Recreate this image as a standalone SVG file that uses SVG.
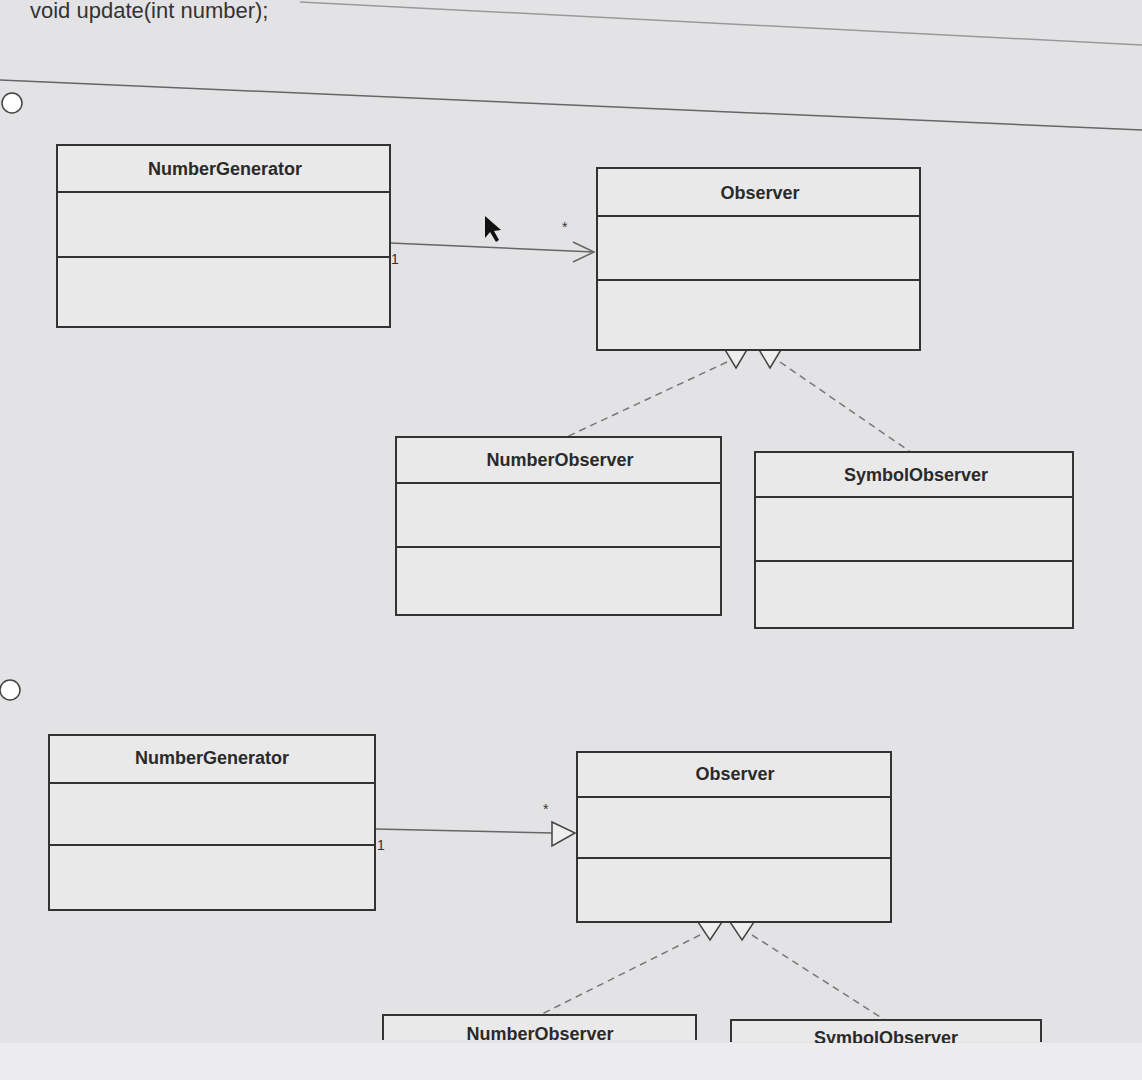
<svg xmlns="http://www.w3.org/2000/svg" width="1142" height="1080" viewBox="0 0 1142 1080">
<style>
.box{fill:#e9e9ea;stroke:#333;stroke-width:2}
.ln{stroke:#333;stroke-width:2}
.t{font-family:"Liberation Sans",Arial,sans-serif;font-size:18px;font-weight:bold;fill:#2a2a2a;text-anchor:middle}
.s{font-family:"Liberation Sans",Arial,sans-serif;font-size:14px;fill:#333}
.dash{stroke:#777;stroke-width:1.5;stroke-dasharray:7 5;fill:none}
.tri{fill:#eee;stroke:#444;stroke-width:1.5}
</style>
<rect width="1142" height="1080" fill="#e3e3e5"/>
<rect y="1045" width="1142" height="35" fill="#ececee"/>
<line x1="0" y1="1045" x2="1142" y2="1045" stroke="#bbb"/>
<text x="30" y="18" font-family="Liberation Sans,Arial,sans-serif" font-size="22" fill="#333">void update(int number);</text>
<line x1="300" y1="2" x2="1142" y2="45" stroke="#999" stroke-width="1.5"/>
<line x1="0" y1="80" x2="1142" y2="130" stroke="#666" stroke-width="1.5"/>
<circle cx="12" cy="103" r="10" fill="#fff" stroke="#444" stroke-width="1.5"/>
<circle cx="10" cy="690" r="10" fill="#fff" stroke="#444" stroke-width="1.5"/>
<g id="connectors">
<line x1="390" y1="243" x2="594" y2="252" stroke="#666" stroke-width="1.5"/>
<polyline points="573,242 594,252 573,262" fill="none" stroke="#666" stroke-width="1.5"/>
<text class="s" x="391" y="264">1</text><text class="s" x="562" y="232">*</text>
<path class="dash" d="M727,362 L560,440 M780,362 L915,455"/>
<polygon class="tri" points="736,348 724,368 748,368" transform="rotate(180 736 358)"/>
<polygon class="tri" points="770,348 758,368 782,368" transform="rotate(180 770 358)"/>
<line x1="375" y1="829" x2="552" y2="833" stroke="#666" stroke-width="1.5"/>
<polygon class="tri" points="552,822 575,833 552,846"/>
<text class="s" x="377" y="850">1</text><text class="s" x="543" y="814">*</text>
<path class="dash" d="M700,935 L540,1015 M752,935 L885,1020"/>
<polygon class="tri" points="710,922 698,940 722,940" transform="rotate(180 710 931)"/>
<polygon class="tri" points="742,922 730,940 754,940" transform="rotate(180 742 931)"/>
</g>
<polygon points="485,216 485,238 490,232 496,242 499,240 494,231 501,230" fill="#111"/>
<g id="ng1"><rect class="box" x="57" y="145" width="333" height="182"/><line class="ln" x1="57" y1="192" x2="390" y2="192"/><line class="ln" x1="57" y1="257" x2="390" y2="257"/><text class="t" x="225" y="175">NumberGenerator</text></g>
<g id="obs1"><rect class="box" x="597" y="168" width="323" height="182"/><line class="ln" x1="597" y1="216" x2="920" y2="216"/><line class="ln" x1="597" y1="280" x2="920" y2="280"/><text class="t" x="760" y="199">Observer</text></g>
<g id="no1"><rect class="box" x="396" y="437" width="325" height="178"/><line class="ln" x1="396" y1="483" x2="721" y2="483"/><line class="ln" x1="396" y1="547" x2="721" y2="547"/><text class="t" x="560" y="466">NumberObserver</text></g>
<g id="so1"><rect class="box" x="755" y="452" width="318" height="176"/><line class="ln" x1="755" y1="497" x2="1073" y2="497"/><line class="ln" x1="755" y1="561" x2="1073" y2="561"/><text class="t" x="916" y="481">SymbolObserver</text></g>
<g id="ng2"><rect class="box" x="49" y="735" width="326" height="175"/><line class="ln" x1="49" y1="783" x2="375" y2="783"/><line class="ln" x1="49" y1="845" x2="375" y2="845"/><text class="t" x="212" y="764">NumberGenerator</text></g>
<g id="obs2"><rect class="box" x="577" y="752" width="314" height="170"/><line class="ln" x1="577" y1="797" x2="891" y2="797"/><line class="ln" x1="577" y1="858" x2="891" y2="858"/><text class="t" x="735" y="780">Observer</text></g>
<g id="no2"><path d="M383,1040 V1015 H696 V1040" class="box"/><text class="t" x="540" y="1040" font-size="16">NumberObserver</text></g>
<g id="so2"><path d="M731,1042 V1020 H1041 V1042" class="box"/><text class="t" x="886" y="1044" font-size="16">SymbolObserver</text></g>
<rect y="1043" width="1142" height="37" fill="#ececee"/>
</svg>
